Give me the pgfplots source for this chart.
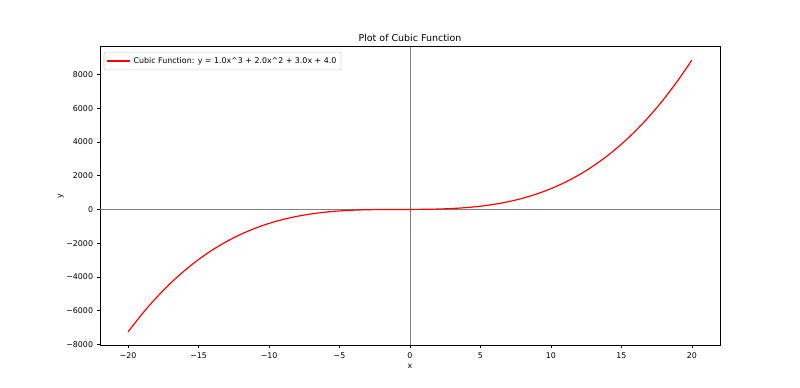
\documentclass[border=0pt]{standalone}
\usepackage{pgfplots}
\pgfplotsset{compat=1.18}
\usepackage{fontspec}
\setmainfont{DejaVu Sans}
\definecolor{mplred}{RGB}{255,0,0}
\begin{document}
\begin{tikzpicture}
\useasboundingbox (0,0) rectangle (8in,3.88in);
\begin{axis}[
  at={(1in,0.4268in)}, anchor=south west,
  scale only axis, width=6.2in, height=2.9876in,
  xmin=-22, xmax=22, ymin=-8062, ymax=9670,
  axis line style={line width=0.46pt},
  tick style={line width=0.46pt, black},
  tick align=outside, major tick length=2pt,
  xtick pos=bottom, ytick pos=left,
  xtick={-20,-15,-10,-5,0,5,10,15,20},
  xticklabels={−20,−15,−10,−5,0,5,10,15,20},
  ytick={-8000,-6000,-4000,-2000,0,2000,4000,6000,8000},
  yticklabels={−8000,−6000,−4000,−2000,0,2000,4000,6000,8000},
  ticklabel style={font=\fontsize{5.7}{7}\selectfont},
  xticklabel style={yshift=0.5pt},
  yticklabel style={xshift=0.5pt},
  xlabel={x}, ylabel={y},
  label style={font=\fontsize{5.7}{7}\selectfont},
  xlabel style={yshift=2.5pt},
  ylabel style={yshift=-5pt},
  title={Plot of Cubic Function},
  title style={font=\fontsize{6.85}{8}\selectfont, yshift=-6.3pt},
  legend style={font=\fontsize{5.7}{7}\selectfont, draw=black!20, rounded corners=1.5pt, inner sep=1.5pt, at={(0.006,0.982)}, anchor=north west},
  legend cell align=left,
  clip=true,
]
\draw[gray, line width=0.5pt] (axis cs:-22,0) -- (axis cs:22,0);
\draw[gray, line width=0.5pt] (axis cs:0,-8062) -- (axis cs:0,9670);
\addplot[mplred, line width=0.86pt, smooth] coordinates {
(-20,-7256) (-19,-6190) (-18,-5234) (-17,-4382) (-16,-3628) (-15,-2966)
(-14,-2390) (-13,-1894) (-12,-1472) (-11,-1118) (-10,-826) (-9,-590)
(-8,-404) (-7,-262) (-6,-158) (-5,-86) (-4,-40) (-3,-14) (-2,-2) (-1,2)
(0,4) (1,10) (2,26) (3,58) (4,112) (5,194) (6,310) (7,466) (8,668)
(9,922) (10,1234) (11,1610) (12,2056) (13,2578) (14,3182) (15,3874)
(16,4660) (17,5546) (18,6538) (19,7642) (20,8864)
};
\addlegendentry{Cubic Function: y = 1.0x\^{}3 + 2.0x\^{}2 + 3.0x + 4.0}
\end{axis}
\end{tikzpicture}
\end{document}
